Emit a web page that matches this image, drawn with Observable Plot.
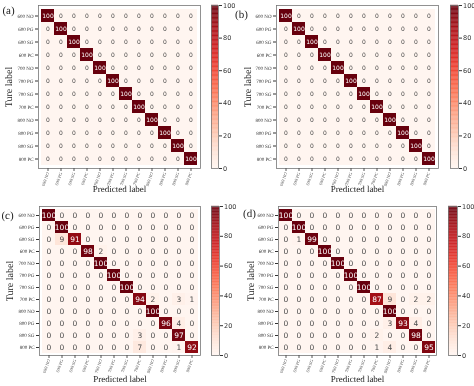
<!DOCTYPE html>
<html>
<head>
<meta charset="utf-8">
<script src="https://cdn.jsdelivr.net/npm/d3@7"></script>
<script src="https://cdn.jsdelivr.net/npm/@observablehq/plot@0.6"></script>
<style>
  body { margin: 0; background: #fff; }
  #root { position: relative; width: 474px; height: 386px; overflow: hidden; background: #fff; }
  #root svg { position: absolute; overflow: visible; will-change: transform; }
  #root svg text { text-rendering: geometricPrecision; }
</style>
</head>
<body>
<div id="root"></div>
<script>
const classLabels = ["600 NO","600 PG","600 SG","600 PC","700 NO","700 PG","700 SG","700 PC","800 NO","800 PG","800 SG","800 PC"];
const panelNames = ["(a)","(b)","(c)","(d)"];
const colorbarTicks = [0,20,40,60,80,100];

const matrixA = [
  [100,0,0,0,0,0,0,0,0,0,0,0],
  [0,100,0,0,0,0,0,0,0,0,0,0],
  [0,0,100,0,0,0,0,0,0,0,0,0],
  [0,0,0,100,0,0,0,0,0,0,0,0],
  [0,0,0,0,100,0,0,0,0,0,0,0],
  [0,0,0,0,0,100,0,0,0,0,0,0],
  [0,0,0,0,0,0,100,0,0,0,0,0],
  [0,0,0,0,0,0,0,100,0,0,0,0],
  [0,0,0,0,0,0,0,0,100,0,0,0],
  [0,0,0,0,0,0,0,0,0,100,0,0],
  [0,0,0,0,0,0,0,0,0,0,100,0],
  [0,0,0,0,0,0,0,0,0,0,0,100]
];
const matrixB = [
  [100,0,0,0,0,0,0,0,0,0,0,0],
  [0,100,0,0,0,0,0,0,0,0,0,0],
  [0,0,100,0,0,0,0,0,0,0,0,0],
  [0,0,0,100,0,0,0,0,0,0,0,0],
  [0,0,0,0,100,0,0,0,0,0,0,0],
  [0,0,0,0,0,100,0,0,0,0,0,0],
  [0,0,0,0,0,0,100,0,0,0,0,0],
  [0,0,0,0,0,0,0,100,0,0,0,0],
  [0,0,0,0,0,0,0,0,100,0,0,0],
  [0,0,0,0,0,0,0,0,0,100,0,0],
  [0,0,0,0,0,0,0,0,0,0,100,0],
  [0,0,0,0,0,0,0,0,0,0,0,100]
];
const matrixC = [
  [100,0,0,0,0,0,0,0,0,0,0,0],
  [0,100,0,0,0,0,0,0,0,0,0,0],
  [0,9,91,0,0,0,0,0,0,0,0,0],
  [0,0,0,98,2,0,0,0,0,0,0,0],
  [0,0,0,0,100,0,0,0,0,0,0,0],
  [0,0,0,0,0,100,0,0,0,0,0,0],
  [0,0,0,0,0,0,100,0,0,0,0,0],
  [0,0,0,0,0,0,0,94,2,0,3,1],
  [0,0,0,0,0,0,0,0,100,0,0,0],
  [0,0,0,0,0,0,0,0,0,96,4,0],
  [0,0,0,0,0,0,0,3,0,0,97,0],
  [0,0,0,0,0,0,0,7,0,0,1,92]
];
const matrixD = [
  [100,0,0,0,0,0,0,0,0,0,0,0],
  [0,100,0,0,0,0,0,0,0,0,0,0],
  [0,1,99,0,0,0,0,0,0,0,0,0],
  [0,0,0,100,0,0,0,0,0,0,0,0],
  [0,0,0,0,100,0,0,0,0,0,0,0],
  [0,0,0,0,0,100,0,0,0,0,0,0],
  [0,0,0,0,0,0,100,0,0,0,0,0],
  [0,0,0,0,0,0,0,87,9,0,2,2],
  [0,0,0,0,0,0,0,0,100,0,0,0],
  [0,0,0,0,0,0,0,0,3,93,4,0],
  [0,0,0,0,0,0,0,2,0,0,98,0],
  [0,0,0,0,0,0,0,1,4,0,0,95]
];
const matrices = [matrixA, matrixB, matrixC, matrixD];

// layout (pixels), kept separate from the data
const layouts = [
  {ox:0,   oy:0,   w:205, h:193, mL:38, mR:5, mT:5,  mB:25, num:6,   ttlDx:-30, ttlDy:21, tag:[-30,5],  cb:{ox:205, w:35, mL:6, mR:22}},
  {ox:237, oy:0,   w:205, h:193, mL:39, mR:4, mT:5,  mB:25, num:6,   ttlDx:-29, ttlDy:21, tag:[-35,9],  cb:{ox:442, w:32, mL:8, mR:16}},
  {ox:0,   oy:193, w:205, h:193, mL:39, mR:5, mT:13, mB:31, num:7.5, ttlDx:-30, ttlDy:24, tag:[-32,9],  cb:{ox:205, w:35, mL:6, mR:21}},
  {ox:237, oy:193, w:205, h:193, mL:41, mR:6, mT:13, mB:31, num:7.5, ttlDx:-28, ttlDy:24, tag:[-29,7],  cb:{ox:442, w:32, mL:6, mR:17}}
];

const serif = "'Liberation Serif', 'DejaVu Serif', serif";
const sans = "'DejaVu Sans', sans-serif";
const root = document.getElementById("root");

matrices.forEach((m, k) => {
  const L = layouts[k];
  const cells = [];
  m.forEach((row, i) => row.forEach((v, j) => cells.push({t: classLabels[i], p: classLabels[j], v})));

  const chart = Plot.plot({
    width: L.w, height: L.h,
    marginLeft: L.mL, marginRight: L.mR, marginTop: L.mT, marginBottom: L.mB,
    style: {background: "transparent", fontFamily: serif, overflow: "visible"},
    x: {domain: classLabels, padding: 0},
    y: {domain: classLabels, padding: 0},
    color: {type: "linear", scheme: "reds", domain: [0, 100]},
    marks: [
      Plot.cell(cells, {x: "p", y: "t", fill: "v"}),
      Plot.text(cells.filter(d => d.v > 50), {x: "p", y: "t", text: d => String(d.v), fill: "#ffffff",
        fontSize: L.num, fontFamily: sans}),
      Plot.text(cells.filter(d => d.v <= 50), {x: "p", y: "t", text: d => String(d.v), fill: "#4a4a4a",
        fontSize: L.num, fontFamily: sans}),
      Plot.frame({stroke: "#777", strokeWidth: 0.8}),
      Plot.axisY({anchor: "left", tickSize: 3, tickPadding: 2, fontSize: 5, label: null, color: "#333"}),
      Plot.axisX({anchor: "bottom", tickSize: 3, tickPadding: 1, tickRotate: -70, fontSize: 4.5, label: null, color: "#555"}),
      Plot.text(["Predicted label"], {frameAnchor: "bottom", dy: L.ttlDy, fontSize: 9, fontFamily: serif, fill: "#222", lineAnchor: "middle"}),
      Plot.text(["Ture label"], {frameAnchor: "left", dx: L.ttlDx, rotate: -90, fontSize: 10, fontFamily: serif, fill: "#222", textAnchor: "middle"}),
      Plot.text([panelNames[k]], {frameAnchor: "top-left", dx: L.tag[0], dy: L.tag[1], fontSize: 11, fontFamily: serif, fill: "#222", textAnchor: "middle", lineAnchor: "middle"})
    ]
  });
  chart.style.left = L.ox + "px";
  chart.style.top = L.oy + "px";
  root.appendChild(chart);

  const stops = d3.range(0, 100, 0.5);
  const cb = Plot.plot({
    width: L.cb.w, height: L.h,
    marginLeft: L.cb.mL, marginRight: L.cb.mR, marginTop: L.mT, marginBottom: L.mB,
    style: {background: "transparent", fontFamily: sans, overflow: "visible"},
    y: {domain: [0, 100]},
    color: {type: "linear", scheme: "reds", domain: [0, 100]},
    marks: [
      Plot.rect(stops, {y1: d => d, y2: d => d + 0.6, fill: d => d}),
      Plot.frame({stroke: "#777", strokeWidth: 0.8}),
      Plot.axisY({anchor: "right", ticks: colorbarTicks, tickSize: 3, tickPadding: 1.5, fontSize: 6.5, label: null, color: "#333"})
    ]
  });
  cb.style.left = L.cb.ox + "px";
  cb.style.top = L.oy + "px";
  root.appendChild(cb);
});
</script>
</body>
</html>
